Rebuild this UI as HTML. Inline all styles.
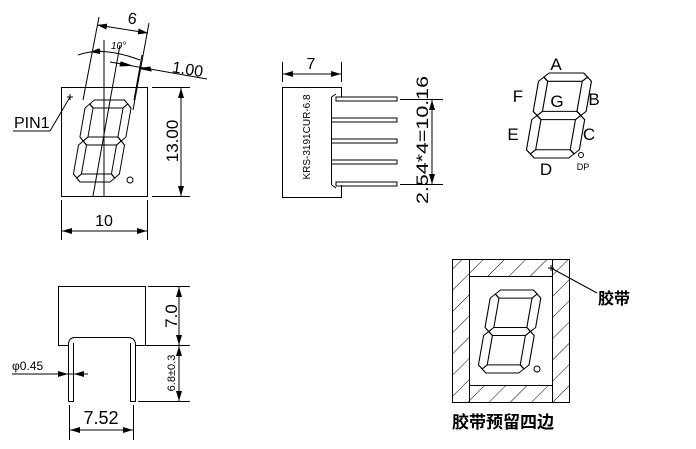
<!DOCTYPE html>
<html><head><meta charset="utf-8"><style>
html,body{margin:0;padding:0;background:#fff;}
svg{display:block;}
text{font-family:"Liberation Sans","Noto Sans CJK SC",sans-serif;fill:#000;}
</style></head><body>
<svg width="696" height="449" viewBox="0 0 696 449" xmlns="http://www.w3.org/2000/svg">
<defs>
<g id="dig" fill="none" stroke="#000" stroke-width="1">
<polygon points="4,4 8,0 38,0 42,4 38,8 8,8"/>
<polygon points="4,41 8,37 38,37 42,41 38,45 8,45"/>
<polygon points="4,78 8,74 38,74 42,78 38,82 8,82"/>
<polygon points="0,8 4,4 8,8 8,37 4,41 0,37"/>
<polygon points="38,8 42,4 46,8 46,37 42,41 38,37"/>
<polygon points="0,45 4,41 8,45 8,74 4,78 0,74"/>
<polygon points="38,45 42,41 46,45 46,74 42,78 38,74"/>
</g>
<marker id="ar" viewBox="0 0 10 6" refX="10" refY="3" markerWidth="10" markerHeight="6" markerUnits="userSpaceOnUse" orient="auto-start-reverse"><path d="M0,0 L10,3 L0,6 z" fill="#000"/></marker>
<pattern id="hatch" patternUnits="userSpaceOnUse" width="15" height="15" patternTransform="rotate(45)"><line x1="0" y1="0" x2="0" y2="15" stroke="#000" stroke-width="1"/></pattern>
</defs>
<g stroke="#000" fill="none" stroke-width="1">
<rect x="61.5" y="87.5" width="86" height="109"/>
<g transform="translate(72,182) skewX(-10) translate(0,-82)"><use href="#dig"/></g>
<circle cx="130" cy="180" r="3"/>
<line x1="104" y1="40" x2="104" y2="196"/>
<line x1="99" y1="17" x2="83" y2="100"/>
<line x1="120" y1="45" x2="93" y2="196"/>
<line x1="149" y1="23" x2="133" y2="110"/>
<line x1="142" y1="55" x2="134" y2="100"/>
<line x1="97" y1="25" x2="148" y2="33" marker-start="url(#ar)" marker-end="url(#ar)"/>
<path d="M78,55 Q103,46 140,60"/>
<line x1="110" y1="62" x2="207" y2="79"/>
<polygon points="121,62 131,65.5 120,66" fill="#000"/>
<polygon points="150,67 140,68.5 151,71" fill="#000"/>
<line x1="90" y1="52" x2="101" y2="51" marker-start="url(#ar)"/>
<line x1="13" y1="131" x2="50" y2="131"/>
<line x1="50" y1="131" x2="70" y2="97"/>
<line x1="67" y1="97" x2="73" y2="97"/><line x1="70" y1="94" x2="70" y2="100"/>
<line x1="152" y1="87.5" x2="190" y2="87.5"/><line x1="152" y1="196.5" x2="190" y2="196.5"/>
<line x1="181" y1="88" x2="181" y2="196" marker-start="url(#ar)" marker-end="url(#ar)"/>
<line x1="61.5" y1="200" x2="61.5" y2="240"/><line x1="147.5" y1="200" x2="147.5" y2="240"/>
<line x1="62" y1="231" x2="147" y2="231" marker-start="url(#ar)" marker-end="url(#ar)"/>
<path d="M341.5,97 V87.5 H282.5 V197.5 H341.5 V185"/>
<line x1="331.5" y1="97" x2="331.5" y2="185"/>
<path d="M331.5,97 L336,94 M331.5,185 L336,188"/>
<g>
<rect x="336" y="97" width="61" height="4"/>
<rect x="331.5" y="118" width="65.5" height="4"/>
<rect x="331.5" y="139" width="65.5" height="4"/>
<rect x="331.5" y="160" width="65.5" height="4"/>
<rect x="336" y="182" width="61" height="4"/>
</g>
<line x1="282.5" y1="62" x2="282.5" y2="82"/><line x1="341.5" y1="62" x2="341.5" y2="82"/>
<line x1="283" y1="74" x2="341" y2="74" marker-start="url(#ar)" marker-end="url(#ar)"/>
<line x1="400" y1="99.5" x2="443" y2="99.5"/><line x1="400" y1="184.5" x2="443" y2="184.5"/>
<line x1="432" y1="100" x2="432" y2="184" marker-start="url(#ar)" marker-end="url(#ar)"/>
<g transform="translate(525,158) skewX(-10) translate(0,-85) scale(1.15,1.037)"><use href="#dig"/></g>
<circle cx="581" cy="155" r="2.5"/>
<path d="M68.5,345.5 H58.5 V286.5 H145.5 V345.5 H135.5"/>
<path d="M68.5,401.5 V345 Q68.5,337.5 75,337.5 H128 Q135.5,337.5 135.5,345 V401.5 H130.5 V343 M68.5,401.5 H73.5 V343"/>
<line x1="148" y1="286.5" x2="190" y2="286.5"/><line x1="145" y1="345.5" x2="190" y2="345.5"/><line x1="138" y1="401.5" x2="190" y2="401.5"/>
<line x1="179" y1="287" x2="179" y2="345" marker-start="url(#ar)" marker-end="url(#ar)"/>
<line x1="179" y1="346" x2="179" y2="401" marker-start="url(#ar)" marker-end="url(#ar)"/>
<line x1="12" y1="374" x2="88" y2="374"/>
<line x1="55" y1="374" x2="68" y2="374" marker-end="url(#ar)"/>
<line x1="86" y1="374" x2="74" y2="374" marker-end="url(#ar)"/>
<line x1="69.5" y1="405" x2="69.5" y2="440"/><line x1="133.5" y1="405" x2="133.5" y2="440"/>
<line x1="70" y1="430" x2="133" y2="430" marker-start="url(#ar)" marker-end="url(#ar)"/>
<path d="M452.5,259.5 H569.5 V402.5 H452.5 Z M469.5,276.5 V385.5 H552.5 V276.5 Z" fill="url(#hatch)" fill-rule="evenodd"/>
<line x1="469.5" y1="259.5" x2="469.5" y2="402.5"/><line x1="552.5" y1="259.5" x2="552.5" y2="402.5"/>
<g transform="translate(477,373) skewX(-10) translate(0,-83) scale(1.1,1.012)"><use href="#dig"/></g>
<circle cx="537" cy="369" r="3"/>
<line x1="551" y1="268" x2="597" y2="293"/>
<line x1="548" y1="268" x2="554" y2="268"/><line x1="551" y1="265" x2="551" y2="271"/>
</g>
<text x="128" y="24" font-size="16" transform="rotate(9 133 18)">6</text>
<text x="111" y="49" font-size="10" font-style="italic">10°</text>
<text x="172" y="75" font-size="16" transform="rotate(9 190 70)">1.00</text>
<text x="14" y="128" font-size="16">PIN1</text>
<text x="0" y="0" font-size="17" text-anchor="middle" transform="translate(178,141) rotate(-90)">13.00</text>
<text x="104" y="226" font-size="16" text-anchor="middle">10</text>
<text x="311" y="69" font-size="16" text-anchor="middle">7</text>
<text x="0" y="0" font-size="10" text-anchor="middle" transform="translate(310,137) rotate(-90)">KRS-3191CUR-6.8</text>
<text x="0" y="0" font-size="17" text-anchor="middle" textLength="128" lengthAdjust="spacingAndGlyphs" transform="translate(428,140) rotate(-90)">2.54*4=10.16</text>
<text x="556" y="70" font-size="17" text-anchor="middle">A</text>
<text x="518" y="102" font-size="17" text-anchor="middle">F</text>
<text x="557" y="107" font-size="17" text-anchor="middle">G</text>
<text x="594" y="105" font-size="17" text-anchor="middle">B</text>
<text x="513" y="140" font-size="17" text-anchor="middle">E</text>
<text x="589" y="140" font-size="17" text-anchor="middle">C</text>
<text x="546" y="175" font-size="17" text-anchor="middle">D</text>
<text x="583" y="170" font-size="9" text-anchor="middle">DP</text>
<text x="0" y="0" font-size="17" text-anchor="middle" transform="translate(177,316) rotate(-90)">7.0</text>
<text x="0" y="0" font-size="11" text-anchor="middle" transform="translate(175,373) rotate(-90)">6.8±0.3</text>
<text x="12" y="370" font-size="12">φ0.45</text>
<text x="101" y="424" font-size="18" text-anchor="middle">7.52</text>
<text x="598" y="304" font-size="16" font-weight="bold">胶带</text>
<text x="452" y="428" font-size="17" font-weight="bold">胶带预留四边</text>
</svg>
</body></html>
